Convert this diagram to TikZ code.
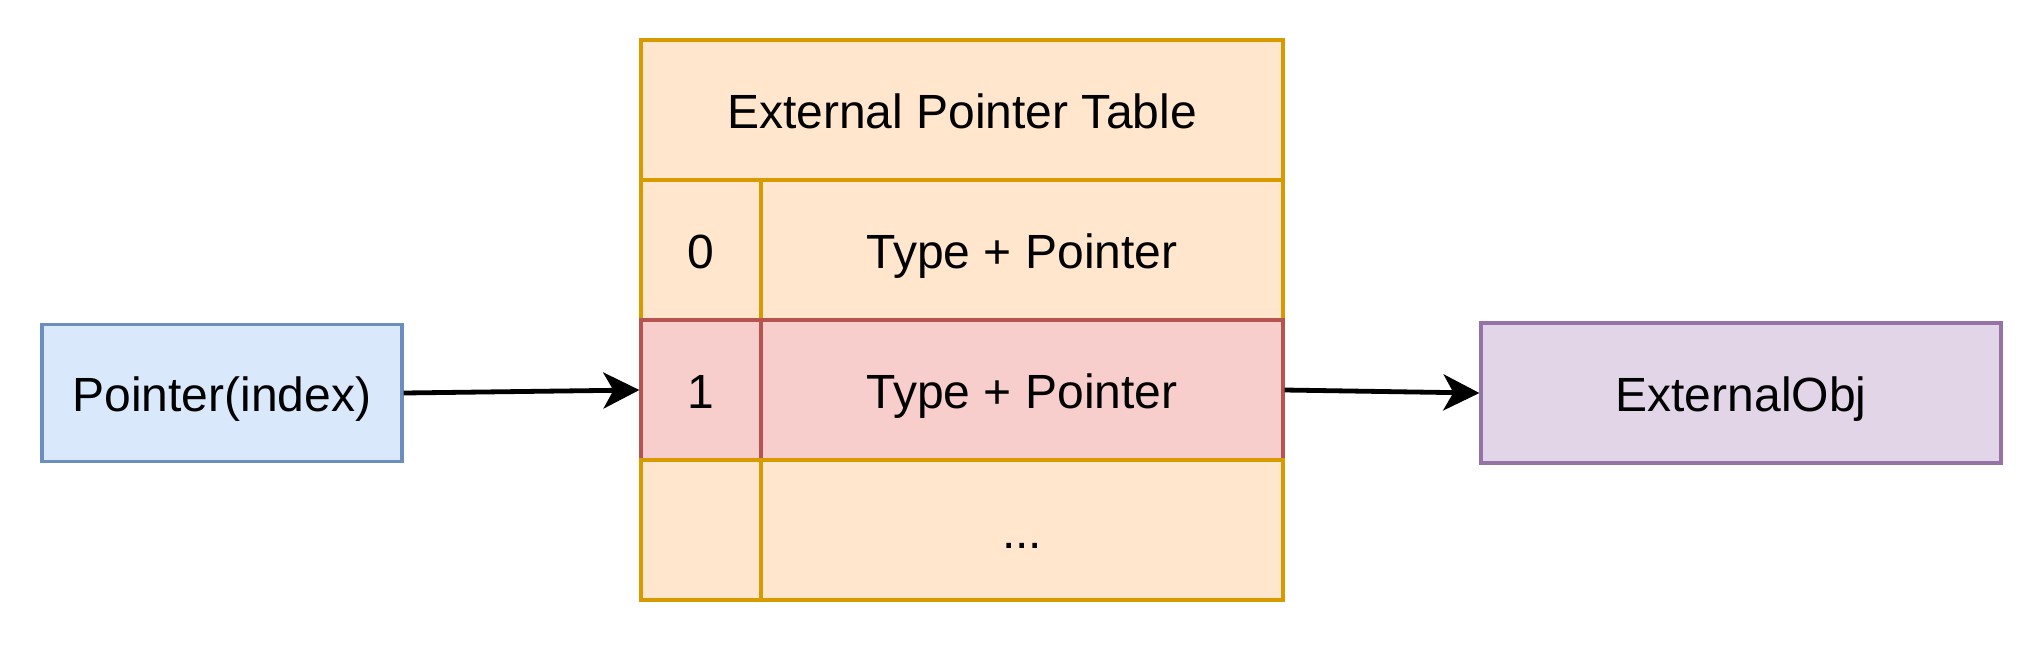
\documentclass[tikz,border=0pt]{standalone}
\usepackage{fontspec}
\setmainfont{Liberation Sans}
\usetikzlibrary{arrows.meta}
\definecolor{orangeF}{HTML}{FFE6CC}
\definecolor{orangeD}{HTML}{D79B00}
\definecolor{redF}{HTML}{F8CECC}
\definecolor{redD}{HTML}{B85450}
\definecolor{blueF}{HTML}{DAE8FC}
\definecolor{blueD}{HTML}{6C8EBF}
\definecolor{purpleF}{HTML}{E1D5E7}
\definecolor{purpleD}{HTML}{9673A6}
\begin{document}
\begin{tikzpicture}[x=.5pt,y=-.5pt,
  every node/.style={font=\fontsize{24}{28}\selectfont,text height=22pt,text depth=4pt},
  cell/.style={draw=orangeD,fill=orangeF,line width=1.6pt,minimum height=70pt,inner sep=0pt},
  link/.style={-{Stealth[length=18pt,width=18pt,inset=5pt]},line width=2.4pt}]
\useasboundingbox (0,0) rectangle (2044,644);

\node[cell,draw=blueD,fill=blueF,minimum width=180pt,minimum height=68.5pt] (ptr) at (222,393) {Pointer(index)};
\node[cell,draw=purpleD,fill=purpleF,minimum width=260pt] (obj) at (1741,393) {ExternalObj};

\node[cell,minimum width=321pt] (head) at (962,110) {External Pointer Table};
\foreach \r/\y/\c in {0/250/orange, 1/390/red} {
  \node[cell,draw=\c D,fill=\c F,minimum width=60pt] (idx\r) at (701,\y) {\r};
  \node[cell,draw=\c D,fill=\c F,minimum width=261pt] (val\r) at (1022,\y) {Type + Pointer};
}
\node[cell,minimum width=60pt] (idx2) at (701,530) {};
\node[cell,minimum width=261pt] (val2) at (1022,530) {...};

\draw[link] (ptr.east) -- (idx1.west);
\draw[link] (val1.east) -- (obj.west);

\end{tikzpicture}
\end{document}
